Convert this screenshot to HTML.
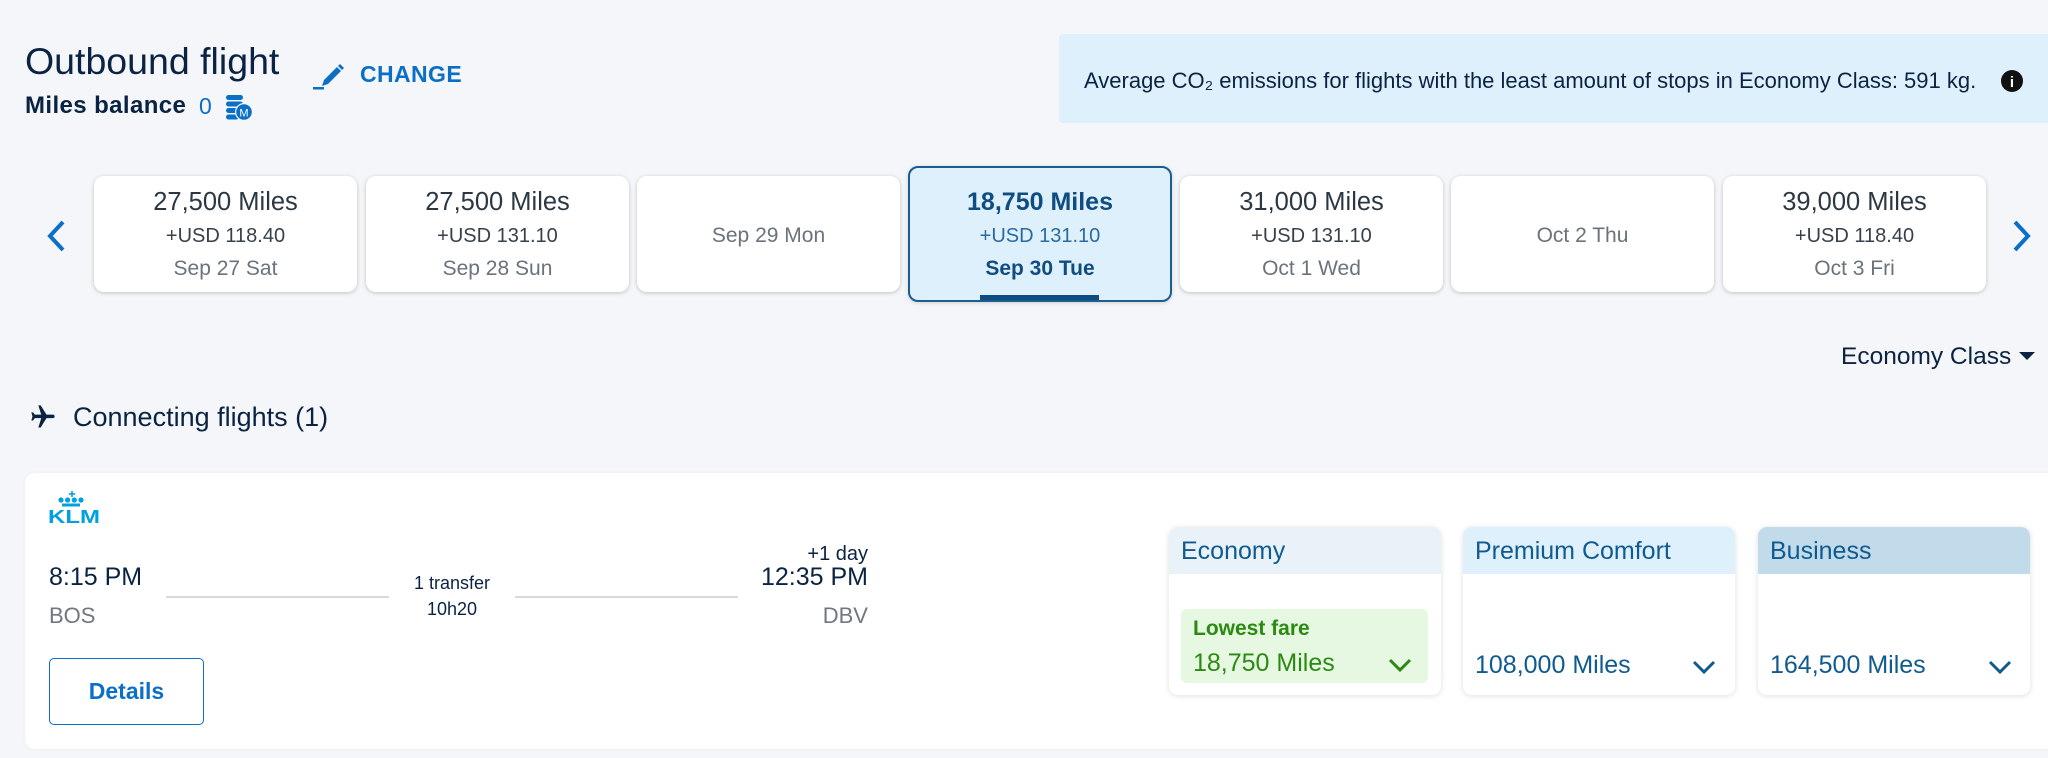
<!DOCTYPE html>
<html><head><meta charset="utf-8">
<style>
*{margin:0;padding:0;box-sizing:border-box}
html,body{width:2048px;height:758px;overflow:hidden;background:#f4f6f9;font-family:"Liberation Sans",Arial,sans-serif;color:#0b2342}
.a{position:absolute;white-space:nowrap;line-height:1}
.card{position:absolute;top:176px;width:263px;height:116px;background:#fff;border-radius:10px;box-shadow:0 1px 4px rgba(0,0,0,.22);text-align:center}
.card .m{position:absolute;left:0;right:0;top:13.5px;font-size:25.5px;color:#2b3843;line-height:1}
.card .u{position:absolute;left:0;right:0;top:50px;font-size:20px;color:#37414b;line-height:1}
.card .d{position:absolute;left:0;right:0;top:81.5px;font-size:21px;color:#6a737c;line-height:1}
.card .o{position:absolute;left:0;right:0;top:48.5px;font-size:21px;color:#6a737c;line-height:1}
.sel{position:absolute;left:908px;top:166px;width:264px;height:136px;background:#dff0fd;border:2px solid #1d5c8e;border-radius:10px;text-align:center;box-shadow:0 1px 4px rgba(0,0,0,.15)}
.sel .m{position:absolute;left:0;right:0;top:21.5px;font-size:25px;color:#0f4c81;font-weight:bold;line-height:1}
.sel .u{position:absolute;left:0;right:0;top:58px;font-size:20px;color:#2a6aa0;line-height:1}
.sel .d{position:absolute;left:0;right:0;top:89.5px;font-size:21px;color:#0f4c81;font-weight:bold;line-height:1}
.sel .bar{position:absolute;left:70px;width:119px;bottom:0;height:5px;background:#0f4c81}
.fare{position:absolute;top:527px;width:272px;height:168px;background:#fff;border-radius:9px;overflow:hidden;box-shadow:0 1px 6px rgba(0,0,0,.13)}
.fare .h{position:absolute;left:0;top:0;right:0;height:47px}
.fare .ht{position:absolute;left:12px;top:11.5px;font-size:25px;color:#0f5a8f;line-height:1;white-space:nowrap}
.fare .pm{position:absolute;left:12px;top:125.5px;font-size:25px;color:#0f5a8f;line-height:1;white-space:nowrap}
</style></head>
<body>

<!-- header -->
<div class="a" style="left:25px;top:43px;font-size:37.5px;color:#0b2342;">Outbound flight</div>
<div class="a" style="left:25px;top:94px;font-size:24px;font-weight:bold;letter-spacing:0.4px;color:#0b2342;">Miles balance</div>
<div class="a" style="left:199px;top:94.5px;font-size:23px;color:#0b6fc8;">0</div>
<svg style="position:absolute;left:225px;top:94px" width="28" height="27" viewBox="0 0 28 27">
  <rect x="1" y="1" width="17" height="5" rx="2.5" fill="#0b6fc8"/>
  <rect x="1" y="7.5" width="17" height="5" rx="2.5" fill="#0b6fc8"/>
  <rect x="1" y="14" width="17" height="5" rx="2.5" fill="#0b6fc8"/>
  <rect x="1" y="20.5" width="13" height="5" rx="2.5" fill="#0b6fc8"/>
  <circle cx="19" cy="18" r="9" fill="#f4f6f9"/>
  <circle cx="19" cy="18" r="7.8" fill="#0b6fc8"/>
  <text x="19" y="22.5" font-family="Liberation Sans, sans-serif" font-size="11" fill="#fff" text-anchor="middle">M</text>
</svg>

<svg style="position:absolute;left:312px;top:63px" width="32" height="28" viewBox="0 0 32 28">
  <path d="M12 17 L25 4 L29 8 L16 21 L10 23 Z" fill="#0b6fc8"/>
  <path d="M26 3 L28 1 L32 5 L30 7 Z" fill="#0b6fc8"/>
  <rect x="1" y="24" width="11" height="2.5" fill="#0b6fc8"/>
</svg>
<div class="a" style="left:360px;top:62.5px;font-size:23px;font-weight:bold;color:#0b6fc8;letter-spacing:0.4px;">CHANGE</div>

<!-- CO2 box -->
<div style="position:absolute;left:1059px;top:34px;width:1000px;height:89px;background:#dff0fd;border-radius:4px"></div>
<div class="a" style="left:1084px;top:70px;font-size:22px;color:#0b2342;">Average CO₂ emissions for flights with the least amount of stops in Economy Class: 591 kg.</div>
<svg style="position:absolute;left:2001px;top:70px" width="22" height="22" viewBox="0 0 22 22">
  <circle cx="11" cy="11" r="11" fill="#111"/>
  <text x="11" y="17" font-family="Liberation Sans, sans-serif" font-weight="bold" font-size="15" fill="#fff" text-anchor="middle">i</text>
</svg>

<!-- carousel arrows -->
<svg style="position:absolute;left:44px;top:219px" width="24" height="34" viewBox="0 0 24 34">
  <polyline points="19,3 6,17 19,31" fill="none" stroke="#0b6fc8" stroke-width="4"/>
</svg>
<svg style="position:absolute;left:2010px;top:219px" width="24" height="34" viewBox="0 0 24 34">
  <polyline points="5,3 18,17 5,31" fill="none" stroke="#0b6fc8" stroke-width="4"/>
</svg>

<!-- date cards -->
<div class="card" style="left:94px"><div class="m">27,500 Miles</div><div class="u">+USD 118.40</div><div class="d">Sep 27 Sat</div></div>
<div class="card" style="left:366px"><div class="m">27,500 Miles</div><div class="u">+USD 131.10</div><div class="d">Sep 28 Sun</div></div>
<div class="card" style="left:637px"><div class="o">Sep 29 Mon</div></div>
<div class="sel"><div class="m">18,750 Miles</div><div class="u">+USD 131.10</div><div class="d">Sep 30 Tue</div><div class="bar"></div></div>
<div class="card" style="left:1180px"><div class="m">31,000 Miles</div><div class="u">+USD 131.10</div><div class="d">Oct 1 Wed</div></div>
<div class="card" style="left:1451px"><div class="o">Oct 2 Thu</div></div>
<div class="card" style="left:1723px"><div class="m">39,000 Miles</div><div class="u">+USD 118.40</div><div class="d">Oct 3 Fri</div></div>

<!-- Economy Class dropdown -->
<div class="a" style="left:1841px;top:345px;font-size:24.5px;color:#0b2342;">Economy Class</div>
<svg style="position:absolute;left:2019px;top:351px" width="16" height="10" viewBox="0 0 16 10"><polygon points="0,1 16,1 8,9" fill="#0b2342"/></svg>

<!-- Connecting flights -->
<svg style="position:absolute;left:29px;top:403px" width="28" height="28" viewBox="0 0 24 24">
  <g transform="rotate(90 12 12)"><path d="M21 16v-2l-8-5V3.5c0-.83-.67-1.5-1.5-1.5S10 2.67 10 3.5V9l-8 5v2l8-2.5V19l-2 1.5V22l3.5-1 3.5 1v-1.5L13 19v-5.5l8 2.5z" fill="#0b2342"/></g>
</svg>
<div class="a" style="left:73px;top:404px;font-size:27px;color:#0b2342;">Connecting flights (1)</div>

<!-- flight card -->
<div style="position:absolute;left:25px;top:473px;width:2040px;height:276px;background:#fff;border-radius:10px;box-shadow:0 0 3px rgba(0,0,0,.05)"></div>

<!-- KLM logo -->
<svg style="position:absolute;left:46px;top:490px" width="56" height="36" viewBox="0 0 56 36">
  <rect x="25.2" y="1" width="1.6" height="6" fill="#00a1de"/>
  <rect x="23" y="3.2" width="6" height="1.6" fill="#00a1de"/>
  <circle cx="15" cy="10" r="2.6" fill="#00a1de"/>
  <circle cx="21.6" cy="10" r="2.6" fill="#00a1de"/>
  <circle cx="28.3" cy="10" r="2.6" fill="#00a1de"/>
  <circle cx="35" cy="10" r="2.6" fill="#00a1de"/>
  <rect x="16" y="13.5" width="18" height="3" fill="#00a1de"/>
  <text x="2" y="33" font-family="Liberation Sans, sans-serif" font-weight="bold" font-size="18" fill="#00a1de" textLength="52" lengthAdjust="spacingAndGlyphs">KLM</text>
</svg>

<div class="a" style="left:49px;top:565px;font-size:25px;color:#0b2342;">8:15 PM</div>
<div class="a" style="left:49px;top:605px;font-size:22px;color:#6f7780;">BOS</div>
<div style="position:absolute;left:166px;top:596px;width:223px;height:2px;background:#d6dadd"></div>
<div style="position:absolute;left:515px;top:596px;width:223px;height:2px;background:#d6dadd"></div>
<div class="a" style="left:401px;width:102px;text-align:center;top:574px;font-size:18px;color:#0b2342;">1 transfer</div>
<div class="a" style="left:401px;width:102px;text-align:center;top:600px;font-size:18px;color:#0b2342;">10h20</div>
<div class="a" style="right:1180px;top:544px;font-size:20px;color:#0b2342;">+1 day</div>
<div class="a" style="right:1180px;top:565px;font-size:25px;color:#0b2342;">12:35 PM</div>
<div class="a" style="right:1180px;top:605px;font-size:22px;color:#6f7780;">DBV</div>

<div style="position:absolute;left:49px;top:658px;width:155px;height:67px;border:1.5px solid #0b6fc8;border-radius:5px;display:flex;align-items:center;justify-content:center;font-size:23px;font-weight:bold;color:#0b6fc8;">Details</div>

<!-- fare cards -->
<div class="fare" style="left:1169px">
  <div class="h" style="background:#e9f2f9"></div>
  <div class="ht">Economy</div>
  <div style="position:absolute;left:12px;top:82px;width:247px;height:74px;background:#e6f8e1;border-radius:6px"></div>
  <div class="a" style="left:24px;top:90.5px;font-size:21px;font-weight:bold;color:#2a8a12;">Lowest fare</div>
  <div class="a" style="left:24px;top:123.5px;font-size:25px;color:#2a8a12;">18,750 Miles</div>
  <svg style="position:absolute;left:219px;top:130px" width="24" height="16" viewBox="0 0 24 16"><polyline points="2,3 12,13 22,3" fill="none" stroke="#2a8a12" stroke-width="3"/></svg>
</div>
<div class="fare" style="left:1463px">
  <div class="h" style="background:#dff0fd"></div>
  <div class="ht">Premium Comfort</div>
  <div class="pm">108,000 Miles</div>
  <svg style="position:absolute;left:229px;top:132px" width="24" height="16" viewBox="0 0 24 16"><polyline points="2,3 12,13 22,3" fill="none" stroke="#0f5a8f" stroke-width="3"/></svg>
</div>
<div class="fare" style="left:1758px">
  <div class="h" style="background:#c2dbea"></div>
  <div class="ht">Business</div>
  <div class="pm">164,500 Miles</div>
  <svg style="position:absolute;left:230px;top:132px" width="24" height="16" viewBox="0 0 24 16"><polyline points="2,3 12,13 22,3" fill="none" stroke="#0f5a8f" stroke-width="3"/></svg>
</div>

</body></html>
